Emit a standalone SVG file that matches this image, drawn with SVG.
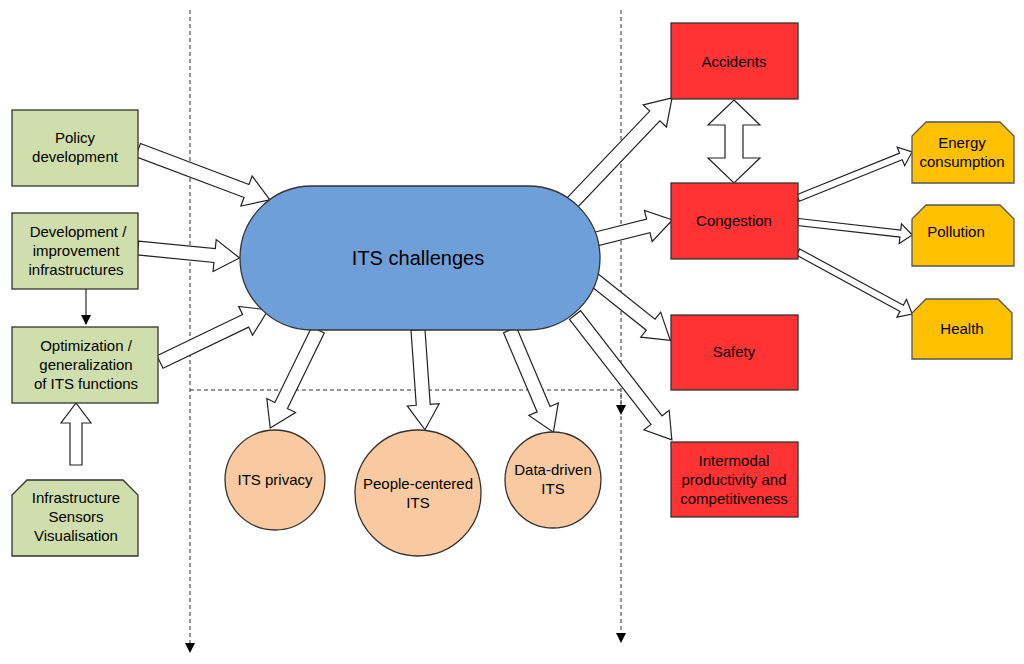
<svg xmlns="http://www.w3.org/2000/svg" width="1024" height="664" viewBox="0 0 1024 664">
<defs>
<style>
text{font-family:"Liberation Sans",Arial,sans-serif;font-size:15px;text-anchor:middle;fill:#000}
.g{fill:#cfdeac;stroke:#333;stroke-width:1.3}
.r{fill:#ff3333;stroke:#333;stroke-width:1.3}
.y{fill:#ffc000;stroke:#555;stroke-width:1.3}
.c{fill:#f9caa1;stroke:#333;stroke-width:1.3}
.ba{fill:#fff;stroke:#222;stroke-width:1.2}
.d{fill:none;stroke:#333;stroke-width:1;stroke-dasharray:4,3}
</style>
<marker id="ah" markerWidth="10" markerHeight="10" refX="9" refY="5" orient="auto" markerUnits="userSpaceOnUse"><path d="M0,0 L10,5 L0,10 z" fill="#000"/></marker>
</defs>
<rect width="1024" height="664" fill="#fff"/>
<g id="connectors">
<path class="d" d="M190,10 V652" marker-end="url(#ah)"/>
<path class="d" d="M621,10 V642" marker-end="url(#ah)"/>
<path class="d" d="M190,390 H621 V414" marker-end="url(#ah)"/>
<path d="M76,262 V285 H86 V324" fill="none" stroke="#000" stroke-width="1" marker-end="url(#ah)"/>
<polygon class="ba" transform="translate(138,150) rotate(20.7)" points="0,-7 116,-7 116,-16 141,0 116,16 116,7 0,7"/>
<polygon class="ba" transform="translate(138,248) rotate(5.6)" points="0,-7 77,-7 77,-16 102,0 77,16 77,7 0,7"/>
<polygon class="ba" transform="translate(160,362) rotate(-25.7)" points="0,-7 95,-7 95,-16 120,0 95,16 95,7 0,7"/>
<polygon class="ba" transform="translate(76,465) rotate(-90)" points="0,-6 42,-6 42,-15 62,0 42,15 42,6 0,6"/>
<polygon class="ba" transform="translate(318,330) rotate(116)" points="0,-7 84,-7 84,-16 109,0 84,16 84,7 0,7"/>
<polygon class="ba" transform="translate(418,330) rotate(86)" points="0,-7 75,-7 75,-16 100,0 75,16 75,7 0,7"/>
<polygon class="ba" transform="translate(510,330) rotate(67)" points="0,-7 86,-7 86,-16 111,0 86,16 86,7 0,7"/>
<polygon class="ba" transform="translate(570,205) rotate(-46.4)" points="0,-7 123,-7 123,-16 148,0 123,16 123,7 0,7"/>
<polygon class="ba" transform="translate(592,240) rotate(-14)" points="0,-7 58,-7 58,-16 83,0 58,16 58,7 0,7"/>
<polygon class="ba" transform="translate(592,278) rotate(38.5)" points="0,-7 75,-7 75,-16 100,0 75,16 75,7 0,7"/>
<polygon class="ba" transform="translate(575,315) rotate(52.2)" points="0,-7 133,-7 133,-16 158,0 133,16 133,7 0,7"/>
<polygon class="ba" points="734,100 760,125 743,125 743,158 760,158 734,183 708,158 725,158 725,125 708,125"/>
<polygon class="ba" transform="translate(798,198) rotate(-22)" points="0,-3.5 111,-3.5 111,-10 123,0 111,10 111,3.5 0,3.5"/>
<polygon class="ba" transform="translate(798,222) rotate(6.5)" points="0,-3.5 103,-3.5 103,-10 115,0 103,10 103,3.5 0,3.5"/>
<polygon class="ba" transform="translate(798,252) rotate(28.5)" points="0,-3.5 118,-3.5 118,-10 130,0 118,10 118,3.5 0,3.5"/>
</g>
<g id="policy"><rect class="g" x="12" y="110" width="126" height="76"/><text x="75" y="143">Policy</text><text x="75" y="162">development</text></g>
<g id="devimp"><rect class="g" x="12" y="213" width="126" height="76"/><text x="78" y="237">Development /</text><text x="76" y="256">improvement</text><text x="76" y="275">infrastructures</text></g>
<g id="optim"><rect class="g" x="12" y="327" width="146" height="76"/><text x="86" y="351">Optimization /</text><text x="86" y="370">generalization</text><text x="86" y="389">of ITS functions</text></g>
<g id="sensors"><polygon class="g" points="27,480 123,480 138,495 138,556 12,556 12,495"/><text x="76" y="503">Infrastructure</text><text x="76" y="522">Sensors</text><text x="76" y="541">Visualisation</text></g>
<g id="its"><rect x="240" y="186" width="360" height="144" rx="72" ry="72" fill="#6f9fd8" stroke="#333" stroke-width="1.3"/><text x="418" y="265" style="font-size:20px">ITS challenges</text></g>
<g id="privacy"><circle class="c" cx="275" cy="480" r="50"/><text x="275" y="485">ITS privacy</text></g>
<g id="people"><circle class="c" cx="418" cy="493" r="63"/><text x="418" y="489">People-centered</text><text x="418" y="508">ITS</text></g>
<g id="data"><circle class="c" cx="553" cy="480" r="48"/><text x="553" y="475">Data-driven</text><text x="553" y="494">ITS</text></g>
<g id="accidents"><rect class="r" x="671" y="23" width="127" height="76"/><text x="734" y="67">Accidents</text></g>
<g id="congestion"><rect class="r" x="671" y="183" width="127" height="76"/><text x="734" y="226">Congestion</text></g>
<g id="safety"><rect class="r" x="671" y="315" width="127" height="75"/><text x="734" y="357">Safety</text></g>
<g id="intermodal"><rect class="r" x="671" y="442" width="127" height="75"/><text x="734" y="466">Intermodal</text><text x="734" y="485">productivity and</text><text x="734" y="504">competitiveness</text></g>
<g id="energy"><polygon class="y" points="926,122 1000,122 1014,136 1014,183 912,183 912,136"/><text x="962" y="148">Energy</text><text x="962" y="167">consumption</text></g>
<g id="pollution"><polygon class="y" points="926,205 1000,205 1014,219 1014,266 912,266 912,219"/><text x="956" y="237">Pollution</text></g>
<g id="health"><polygon class="y" points="926,299 998,299 1012,313 1012,359 912,359 912,313"/><text x="962" y="334">Health</text></g>
</svg>
